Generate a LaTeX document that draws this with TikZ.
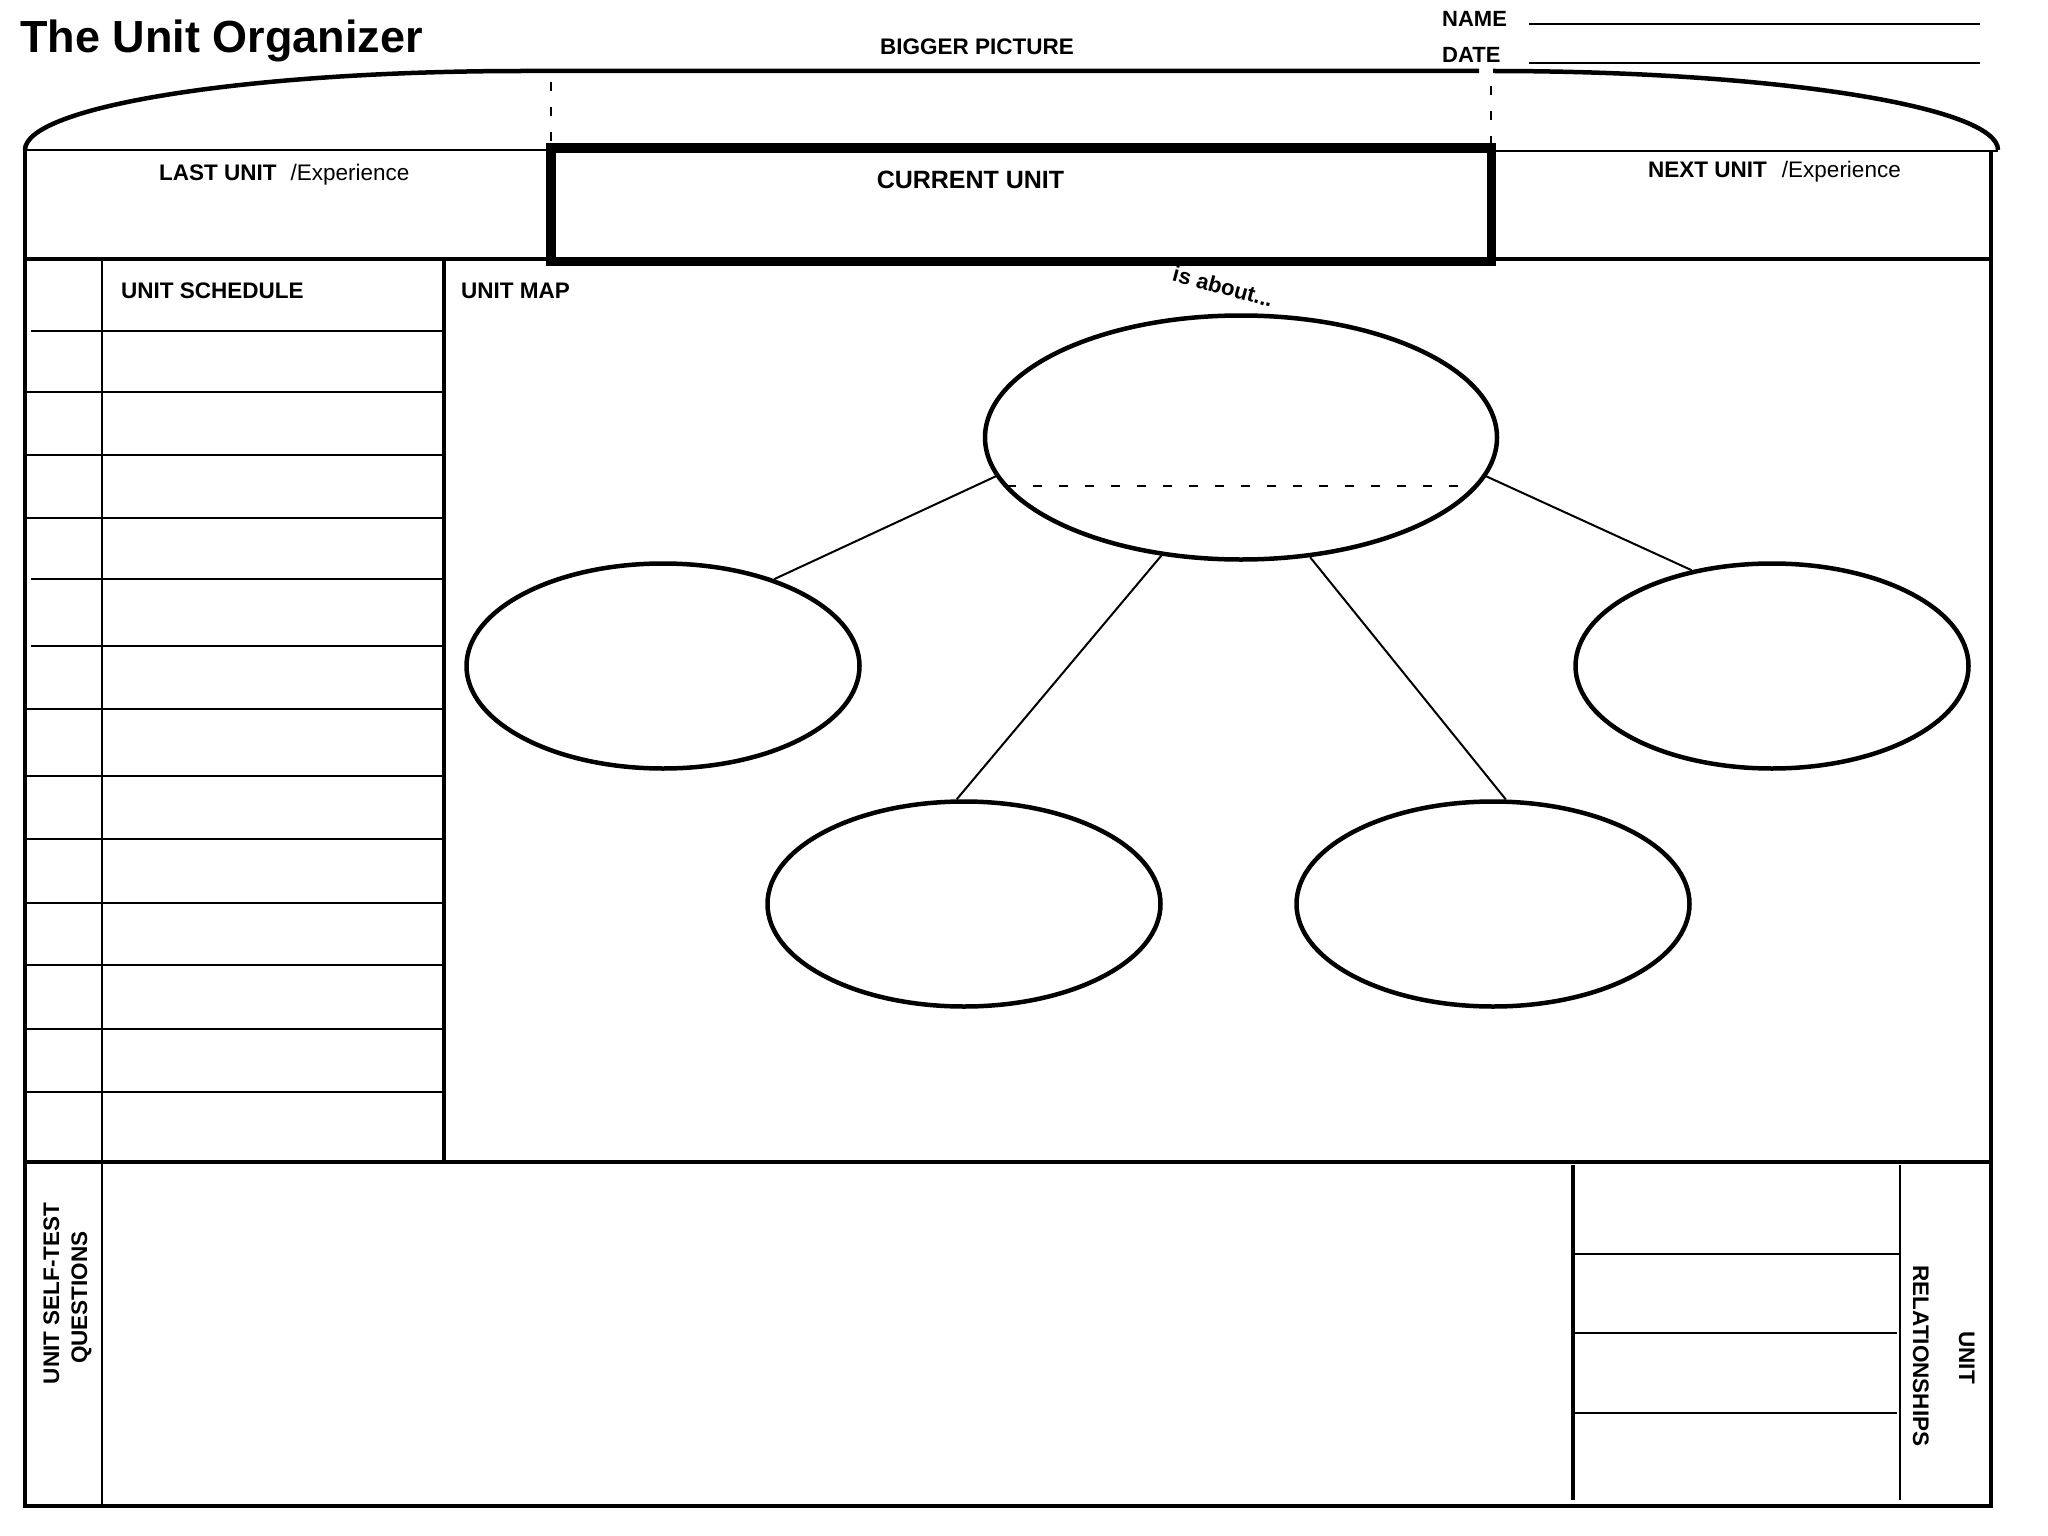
\documentclass[tikz,border=0pt]{standalone}
\usepackage{fontspec}
\setmainfont{Liberation Sans}
\usetikzlibrary{shapes.geometric,calc}
\begin{document}
\begin{tikzpicture}[x=1pt,y=-1pt,
  heavy/.style={line width=4pt},
  rule/.style={line width=2.5pt},
  hair/.style={line width=2pt},
  rim/.style={line width=4.5pt},
  link/.style={line width=2pt},
  dashline/.style={line width=2.5pt, dash pattern=on 9pt off 16pt},
  bubble/.style={draw, ellipse, line width=4.5pt, inner sep=0pt,
                 minimum width=393pt, minimum height=205pt},
  labelb/.style={font=\bfseries\fontsize{22.5}{27}\selectfont, inner sep=0pt},
  labels/.style={font=\bfseries\fontsize{22}{26}\selectfont, inner sep=0pt}]
\useasboundingbox (0,0) rectangle (2048,1536);
\fill[white] (0,0) rectangle (2048,1536);

% ---- title and header texts
\node[anchor=base west, inner sep=0pt, font=\bfseries\fontsize{45}{54}\selectfont] (title) at (20,53) {The Unit Organizer};
\node[labelb, anchor=base] (bigger) at (977,55) {BIGGER PICTURE};
\node[labels, anchor=base west] (name) at (1442,27) {NAME};
\node[labels, anchor=base west] (date) at (1442,63) {DATE};
\coordinate (nameA) at (1529,24); \coordinate (nameB) at (1980,24);
\coordinate (dateA) at (1529,63); \coordinate (dateB) at (1980,63);
\draw[hair] (nameA) -- (nameB);
\draw[hair] (dateA) -- (dateB);

% ---- bigger picture arch
\draw[rim] (25,150) .. controls (25,106.4) and (248,71) .. (523,71) -- (1479,71);
\draw[rim] (1493,71) .. controls (1772,71) and (1998,106.4) .. (1998,150);
\draw[dashline] (551,82) -- (551,143);
\draw[dashline] (1491,86) -- (1491,143);

% ---- unit row
\draw[hair] (25,150) -- (546,150);
\draw[hair] (1496,151) -- (1998,151);
\draw[heavy] (25,259) -- (546,259);
\draw[heavy] (1496,259) -- (1991,259);
\draw[line width=9.3pt] (551,148) rectangle (1491.3,261.3);
\node[labelb, anchor=base west] (last) at (159,180) {LAST UNIT\hspace{14pt}\mdseries /Experience};
\node[anchor=base, inner sep=0pt, font=\bfseries\fontsize{25}{30}\selectfont] (current) at (970.5,188) {CURRENT UNIT};
\node[labelb, anchor=base west] (next) at (1648,177) {NEXT UNIT\hspace{15pt}\mdseries /Experience};

% ---- outer frame
\draw[heavy] (25,148) -- (25,1508);
\draw[heavy] (1991,150) -- (1991,1508);
\draw[heavy] (23,1162) -- (1993,1162);
\draw[heavy] (23,1506) -- (1993,1506);

% ---- unit schedule
\draw[rule] (102,259) -- (102,1162);
\draw[heavy] (444,259) -- (444,1162);
\foreach \yy/\xx in {331/31, 392/25, 455/25, 518/25, 579/31, 646/31, 709/25,
                     776/25, 839/25, 903/25, 965/25, 1029/25, 1092/25}
  \draw[rule] (\xx,\yy) -- (444,\yy);
\node[labelb, anchor=base west] (schedule) at (121,298) {UNIT SCHEDULE};
\node[labelb, anchor=base west] (map) at (461,298) {UNIT MAP};

% ---- unit map
\node[bubble, minimum width=512pt, minimum height=244pt] (topE) at (1241,437.5) {};
\node[bubble] (leftE) at (663,666) {};
\node[bubble] (rightE) at (1772,666) {};
\node[bubble] (blE) at (964,904) {};
\node[bubble] (brE) at (1493,904) {};
\node[labels, anchor=base, rotate=-15] (about) at (1221,294) {is about...};
\draw[line width=2.5pt, dash pattern=on 8.5pt off 17.5pt]
  ($(topE.center)+(-234,48.5)$) -- ($(topE.center)+(236,48.5)$);
\draw[link] (topE.189) -- (leftE.38.5);
\draw[link] (topE.236.3) -- (blE.94.4);
\draw[link] (topE.300.6) -- (brE.83);
\draw[link] (topE.351.4) -- (rightE.130.3);

% ---- bottom section
\draw[rule] (102,1162) -- (102,1506);
\draw[heavy] (1573,1165) -- (1573,1500);
\draw[rule] (1900,1165) -- (1900,1500);
\draw[rule] (1575,1254) -- (1899,1254);
\draw[rule] (1575,1333) -- (1897,1333);
\draw[rule] (1575,1413) -- (1897,1413);
\node[labelb, anchor=base, rotate=90] (selftestA) at (59,1293.5) {UNIT SELF-TEST};
\node[labelb, anchor=base, rotate=90] (selftestB) at (87,1297.5) {QUESTIONS};
\node[labelb, anchor=base, rotate=-90] (relA) at (1959,1357.5) {UNIT};
\node[labelb, anchor=base, rotate=-90] (relB) at (1913,1356) {RELATIONSHIPS};
\end{tikzpicture}
\end{document}
